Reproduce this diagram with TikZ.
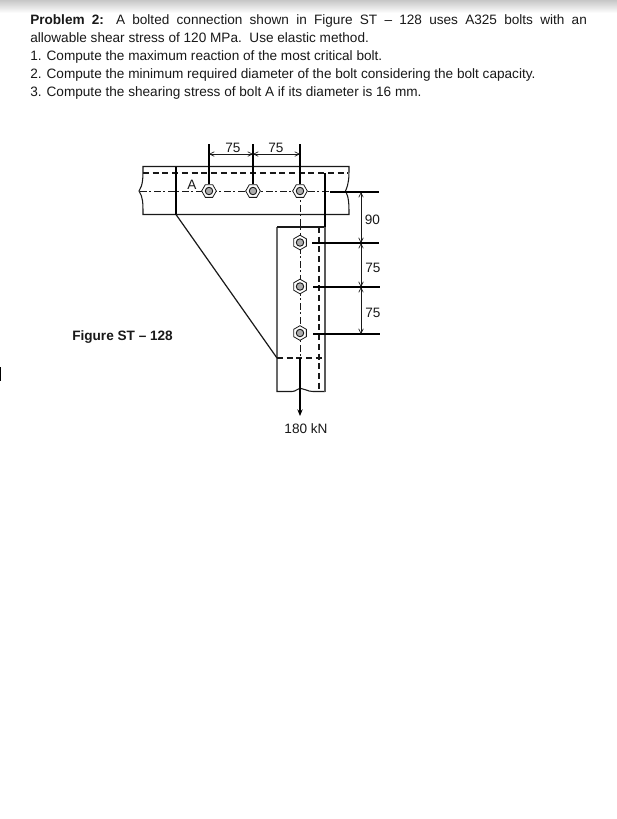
\documentclass[tikz,border=0pt]{standalone}
\usepackage{fontspec}
\setmainfont{Liberation Sans}
\usetikzlibrary{arrows.meta,shapes.geometric}
\definecolor{ink}{gray}{0.1}
\tikzset{
  x=0.75pt,y=-0.75pt,
  body/.style={anchor=base west,inner sep=0pt,font=\fontsize{10.2pt}{12pt}\selectfont,text=ink},
  lab/.style={inner sep=0pt,font=\fontsize{10.2pt}{12pt}\selectfont,text=ink},
  plate/.style={draw=ink,line width=0.8pt},
  heavy/.style={draw=black,line width=1.5pt},
  hid/.style={draw=ink,line width=0.85pt,dash pattern=on 4.5pt off 2.8pt},
  centre/.style={draw=ink,line width=0.7pt,dash pattern=on 5pt off 2pt on 1.5pt off 2pt},
  dimen/.style={draw=ink,line width=0.5pt,{Straight Barb[length=3.4pt,width=3.4pt]}-{Straight Barb[length=3.4pt,width=3.4pt]}},
  hexa/.style={regular polygon,regular polygon sides=6,draw=ink,fill=white,line width=0.6pt,minimum size=11pt,inner sep=0pt},
  pin/.style={circle,draw=ink,fill=gray!65,line width=0.7pt,minimum size=5.6pt,inner sep=0pt},
}
\begin{document}
\begin{tikzpicture}
\useasboundingbox (0,0) rectangle (617,819);
\fill[white] (0,0) rectangle (617,819);
\shade[top color=black!22,bottom color=white] (0,0) rectangle (617,13);
\fill[black] (0,367) rectangle (1.5,381);
% text
\node[body] (t1) at (30,24.5) {\makebox[417.5pt][s]{\textbf{Problem 2:} A bolted connection shown in Figure ST -- 128 uses A325 bolts with an}};
\node[body] (t2) at (30,42.5) {allowable shear stress of 120 MPa.\ \ Use elastic method.};
\node[body] (t3) at (30,60.5) {1. Compute the maximum reaction of the most critical bolt.};
\node[body] (t4) at (30,78.5) {2. Compute the minimum required diameter of the bolt considering the bolt capacity.};
\node[body] (t5) at (30,96.5) {3. Compute the shearing stress of bolt A if its diameter is 16 mm.};
\node[body,font=\fontsize{10.2pt}{12pt}\selectfont\bfseries] (fig) at (72,340.5) {Figure ST -- 128};
% key points
\coordinate (gt) at (176,166.5);
\coordinate (gb) at (176,214.5);
\coordinate (gd) at (277,358);
\coordinate (atl) at (277,227);
\coordinate (atr) at (325,227);
\coordinate (rt) at (325,173);
\coordinate (abl) at (277,391.5);
\coordinate (abr) at (325,391.5);
\coordinate (hl) at (143,173);
\coordinate (hr) at (348,173);
% centre lines (beneath bolts)
\coordinate (cl) at (140,191);
\coordinate (cr) at (330,191);
\coordinate (cvb) at (300,358);
\draw[centre] (cl) -- (cr);
\draw[centre] (300,191) -- (cvb);
% channel outline
\draw[plate] (143,214.5) .. controls (143,203) and (143,197) .. (139,191)
  .. controls (143,185) and (143,178) .. (143,166.5) -- (349,166.5)
  .. controls (349,178) and (349,183) .. (345.5,191) .. controls (349,197) and (349,205) .. (349,214.5)
  -- cycle;
\draw[hid] (hl) -- (hr);
% angle
\draw[plate] (atl) -- (atr);
\draw[plate] (atl) -- (abl) -- (292,391.5) .. controls (296,391.5) and (297,388.5) .. (301,388.5) .. controls (305,388.5) and (307,391.5) .. (313,391.5) -- (abr);
\draw[draw=gray!70!black,line width=1.1pt] (atr) -- (abr);
\draw[hid] (319,227) -- (319,391);
\draw[hid] (gd) -- (325,358);
% gusset
\draw[heavy] (gt) -- (gb);
\draw[draw=ink,line width=0.9pt] (gb) -- (gd);
\draw[heavy,line width=1.2pt] (rt) -- (atr);
% bolts
\foreach \n/\px/\py/\r in {a/209/191/0,b/253/191/0,c/300/191/0,d/300/242.5/30,e/300/286.5/30,f/300/333/30}{
  \node[hexa,rotate=\r] (\n) at (\px,\py) {};
  \node[pin] (\n p) at (\px,\py) {};
}
% horizontal dimension
\coordinate (xa) at (209,144);
\coordinate (xb) at (253,144);
\coordinate (xc) at (300,144);
\draw[heavy] (xa) -- (a.north);
\draw[heavy] (xb) -- (b.north);
\draw[heavy] (xc) -- (c.north);
\coordinate (da) at (209,154);
\coordinate (db) at (253,154);
\coordinate (dc) at (300,154);
\draw[dimen] (da) -- (db);
\draw[dimen] (db) -- (dc);
\node[lab] (l1) at (233,148) {75};
\node[lab] (l2) at (276,148) {75};
\node[lab] (la) at (192,184.5) {A};
% vertical dimension
\coordinate (yc) at (379,192);
\coordinate (yd) at (379,243);
\coordinate (ye) at (380,287);
\coordinate (yf) at (380,334);
\draw[heavy] (330,192) -- (yc);
\draw[heavy] (312,243) -- (yd);
\draw[heavy] (313,287) -- (ye);
\draw[heavy] (313,334) -- (yf);
\coordinate (v1) at (361,192);
\coordinate (v2) at (361,243);
\coordinate (v3) at (361,287);
\coordinate (v4) at (361,334);
\draw[dimen] (v1) -- (v2);
\draw[dimen] (v2) -- (v3);
\draw[dimen] (v3) -- (v4);
\node[lab] (l3) at (372.5,220) {90};
\node[lab] (l4) at (373,268) {75};
\node[lab] (l5) at (373,313) {75};
% load
\coordinate (ltip) at (300,416);
\draw[draw=black,line width=0.9pt,-{Stealth[length=5pt,width=4pt]}] (cvb) -- (ltip);
\node[lab] (load) at (306,428.5) {180 kN};
\end{tikzpicture}
\end{document}
